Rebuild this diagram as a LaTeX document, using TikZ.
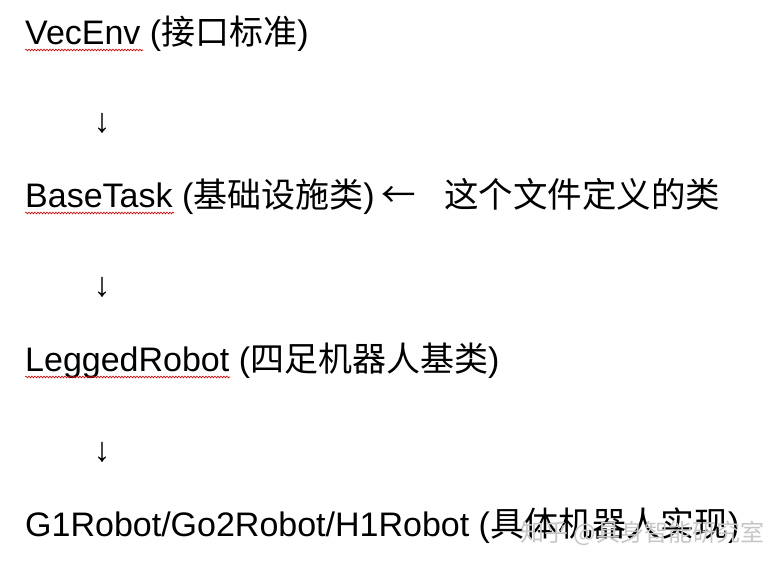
\documentclass[tikz,border=0pt]{standalone}
\usepackage{fontspec}
\setmainfont{Liberation Sans}
\newfontfamily\cjk{Noto Sans CJK SC}
\usetikzlibrary{decorations.pathmorphing}
\tikzset{
  line/.style={anchor=base west, inner sep=0pt, font=\fontsize{34}{40}\selectfont},
  cjkline/.style={anchor=base west, inner sep=0pt, font=\fontsize{34.5}{40}\selectfont\cjk},
  darrow/.style={anchor=base, inner sep=0pt, font=\fontsize{34}{40}\selectfont},
  spell/.style={draw=red!85!black, line width=0.6pt, decorate, decoration={snake, amplitude=0.9pt, segment length=3pt}},
  wmark/.style={anchor=base west, inner sep=0pt, text=black!22, font=\fontsize{24}{28}\selectfont\cjk}
}
\begin{document}
\begin{tikzpicture}[x=1pt,y=1pt]
\useasboundingbox[fill=white] (0,0) rectangle (780,-564);
\node[line] (v) at (25,-45) {VecEnv ({\cjk 接口标准})};
\node[darrow] (a1) at (102,-133) {↓};
\node[line] (b) at (25,-208) {BaseTask ({\cjk 基础设施类})};
\node[cjkline] (la) at (381,-208) {←};
\node[cjkline] (note) at (444,-208) {这个文件定义的类};
\node[darrow] (a2) at (102,-297) {↓};
\node[line] (l) at (25,-372) {LeggedRobot ({\cjk 四足机器人基类})};
\node[darrow] (a3) at (102,-461) {↓};
\node[line] (g) at (25,-536) {G1Robot/Go2Robot/H1Robot ({\cjk 具体机器人实现})};
\draw[spell] (25,-50) -- (143,-50);
\draw[spell] (25,-213) -- (174,-213);
\draw[spell] (25,-377) -- (230,-377);
\node[wmark] (wm) at (520,-541) {知乎 @具身智能研究室};
\end{tikzpicture}
\end{document}
